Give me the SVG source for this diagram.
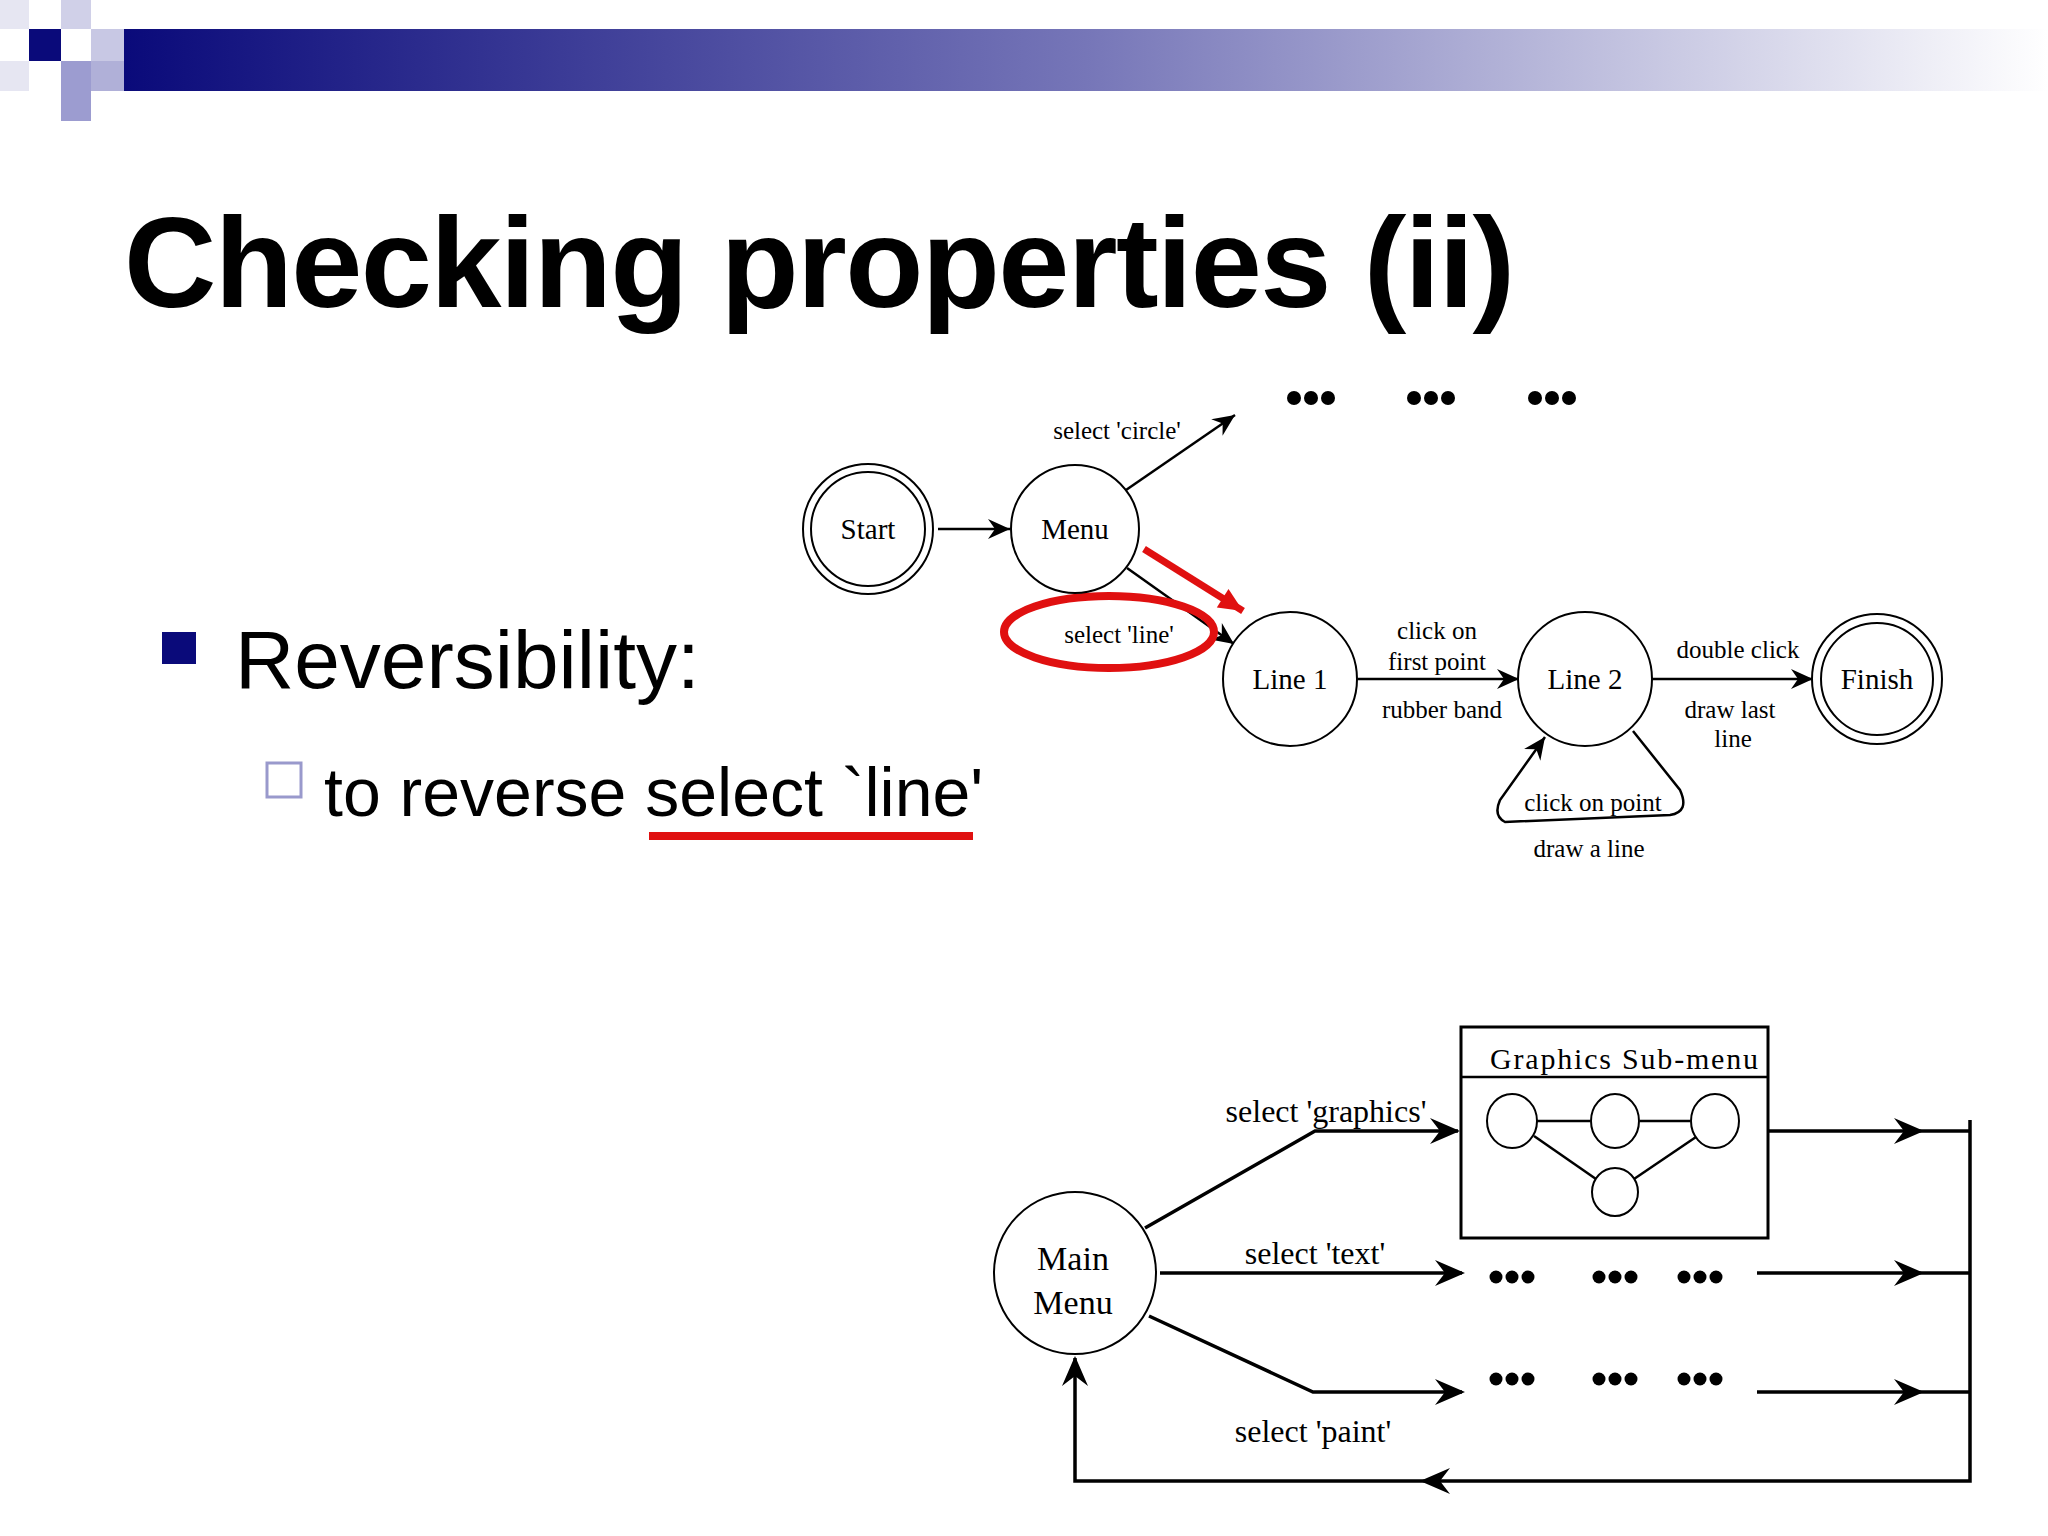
<svg xmlns="http://www.w3.org/2000/svg" width="2048" height="1536" viewBox="0 0 2048 1536">
<defs>
<linearGradient id="band" x1="0" x2="1" y1="0" y2="0">
<stop offset="0" stop-color="#0a0a7a"/><stop offset="0.5" stop-color="#7676b8"/><stop offset="1" stop-color="#ffffff"/>
</linearGradient>
<path id="ah" d="M0,0 L-30,-13 L-20,0 L-30,13 z"/>
<marker id="m" markerUnits="userSpaceOnUse" markerWidth="30" markerHeight="30" viewBox="-28 -14 30 28" refX="0" refY="0" orient="auto"><path d="M0,0 L-22,-10 L-15,0 L-22,10 z" fill="#000"/></marker>
<marker id="mr" markerUnits="userSpaceOnUse" markerWidth="30" markerHeight="30" viewBox="-28 -14 30 28" refX="0" refY="0" orient="auto"><path d="M0,0 L-24,-11 L-24,11 z" fill="#e01010"/></marker>
</defs>
<style>
.ln{stroke:#000;stroke-width:2.5;fill:none}
.bl{stroke:#000;stroke-width:3.5;fill:none}
.nd{fill:#fff;stroke:#000;stroke-width:2}
.t{font-family:"Liberation Serif",serif;fill:#000;text-anchor:middle}
.s{font-family:"Liberation Sans",Arial,sans-serif;fill:#000}
.d{fill:#000}
</style>
<rect width="2048" height="1536" fill="#fff"/>
<g id="header">
<rect x="124" y="29" width="1924" height="62" fill="url(#band)"/>
<rect x="0" y="0" width="29" height="29" fill="#e6e6f2"/>
<rect x="29" y="29" width="32" height="32" fill="#0a0a7a"/>
<rect x="61" y="0" width="30" height="29" fill="#d0d0e8"/>
<rect x="91" y="29" width="33" height="32" fill="#c8c8e4"/>
<rect x="61" y="61" width="30" height="30" fill="#9c9cd0"/>
<rect x="0" y="61" width="29" height="30" fill="#e6e6f2"/>
<rect x="61" y="91" width="30" height="30" fill="#9c9cd0"/>
<rect x="91" y="61" width="33" height="30" fill="#b0b0d8"/>
</g>
<text class="s" x="124" y="307" font-size="128" font-weight="bold" textLength="1391">Checking properties (ii)</text>
<rect x="162" y="632" width="34" height="32" fill="#0a0a7a"/>
<text class="s" x="235" y="688" font-size="82">Reversibility:</text>
<rect x="267" y="763" width="34" height="34" fill="none" stroke="#9999cc" stroke-width="3"/>
<text class="s" x="324" y="816" font-size="68">to reverse select `line'</text>
<line x1="649" y1="836" x2="973" y2="836" stroke="#e01010" stroke-width="8"/>

<g id="connectors-top">
<line class="ln" x1="938" y1="529" x2="1010" y2="529" marker-end="url(#m)"/>
<line class="ln" x1="1126" y1="490" x2="1235" y2="415" marker-end="url(#m)"/>
<line class="ln" x1="1127" y1="568" x2="1234" y2="644" marker-end="url(#m)"/>
<line class="ln" x1="1358" y1="679" x2="1519" y2="679" marker-end="url(#m)"/>
<line class="ln" x1="1652" y1="679" x2="1813" y2="679" marker-end="url(#m)"/>
<path class="ln" d="M1633,731 L1680,790 Q1690,812 1670,815 L1505,822 Q1493,816 1500,800 L1545,737" marker-end="url(#m)"/>
<line x1="1144" y1="549" x2="1243" y2="611" stroke="#e01010" stroke-width="7" marker-end="url(#mr)"/>
</g>
<g class="t" font-size="25">
<text x="1117" y="439">select 'circle'</text>
<text x="1119" y="643">select 'line'</text>
<text x="1437" y="639">click on</text>
<text x="1437" y="670">first point</text>
<text x="1442" y="718">rubber band</text>
<text x="1738" y="658">double click</text>
<text x="1730" y="718">draw last</text>
<text x="1733" y="747">line</text>
<text x="1593" y="811">click on point</text>
<text x="1589" y="857">draw a line</text>
</g>
<ellipse cx="1109" cy="632" rx="105" ry="36" fill="none" stroke="#e01010" stroke-width="8"/>
<g id="dots-top" class="d">
<circle cx="1294" cy="398" r="7"/><circle cx="1311" cy="398" r="7"/><circle cx="1328" cy="398" r="7"/>
<circle cx="1414" cy="398" r="7"/><circle cx="1431" cy="398" r="7"/><circle cx="1448" cy="398" r="7"/>
<circle cx="1535" cy="398" r="7"/><circle cx="1552" cy="398" r="7"/><circle cx="1569" cy="398" r="7"/>
</g>
<g id="start"><circle class="nd" cx="868" cy="529" r="65"/><circle class="nd" cx="868" cy="529" r="57"/><text class="t" x="868" y="539" font-size="29">Start</text></g>
<g id="menu"><circle class="nd" cx="1075" cy="529" r="64"/><text class="t" x="1075" y="539" font-size="29">Menu</text></g>
<g id="line1"><circle class="nd" cx="1290" cy="679" r="67"/><text class="t" x="1290" y="689" font-size="29">Line 1</text></g>
<g id="line2"><circle class="nd" cx="1585" cy="679" r="67"/><text class="t" x="1585" y="689" font-size="29">Line 2</text></g>
<g id="finish"><circle class="nd" cx="1877" cy="679" r="65"/><circle class="nd" cx="1877" cy="679" r="56"/><text class="t" x="1877" y="689" font-size="29">Finish</text></g>

<g id="connectors-bottom">
<polyline class="bl" points="1145,1228 1315,1131 1458,1131"/>
<line class="bl" x1="1160" y1="1273" x2="1462" y2="1273"/>
<polyline class="bl" points="1149,1316 1313,1392 1462,1392"/>
<line class="bl" x1="1768" y1="1131" x2="1970" y2="1131"/>
<line class="bl" x1="1757" y1="1273" x2="1970" y2="1273"/>
<line class="bl" x1="1757" y1="1392" x2="1970" y2="1392"/>
<polyline class="bl" points="1970,1120 1970,1481 1075,1481 1075,1358"/>
<use href="#ah" transform="translate(1460,1131)"/>
<use href="#ah" transform="translate(1465,1273)"/>
<use href="#ah" transform="translate(1465,1392)"/>
<use href="#ah" transform="translate(1924,1131)"/>
<use href="#ah" transform="translate(1924,1273)"/>
<use href="#ah" transform="translate(1924,1392)"/>
<use href="#ah" transform="translate(1420,1481) rotate(180)"/>
<use href="#ah" transform="translate(1075,1356) rotate(-90)"/>
</g>
<g class="t" font-size="32">
<text x="1326" y="1122">select 'graphics'</text>
<text x="1315" y="1264">select 'text'</text>
<text x="1313" y="1442">select 'paint'</text>
</g>
<g id="main-menu"><circle class="nd" cx="1075" cy="1273" r="81" stroke-width="3"/><text class="t" x="1073" y="1270" font-size="34">Main</text><text class="t" x="1073" y="1314" font-size="34">Menu</text></g>
<g id="graphics-submenu">
<rect x="1461" y="1027" width="307" height="211" fill="#fff" stroke="#000" stroke-width="3"/>
<line class="ln" x1="1461" y1="1077" x2="1768" y2="1077" stroke-width="3"/>
<text class="t" x="1624" y="1069" font-size="30" textLength="268">Graphics  Sub-menu</text>
<line class="ln" x1="1537" y1="1121" x2="1590" y2="1121"/>
<line class="ln" x1="1640" y1="1121" x2="1690" y2="1121"/>
<line class="ln" x1="1534" y1="1136" x2="1596" y2="1179"/>
<line class="ln" x1="1696" y1="1137" x2="1634" y2="1179"/>
<ellipse class="nd" cx="1512" cy="1121" rx="25" ry="27"/>
<ellipse class="nd" cx="1615" cy="1121" rx="24" ry="27"/>
<ellipse class="nd" cx="1715" cy="1121" rx="24" ry="27"/>
<ellipse class="nd" cx="1615" cy="1192" rx="23" ry="24"/>
</g>
<g id="dots-bottom" class="d">
<circle cx="1496" cy="1277" r="6.5"/><circle cx="1512" cy="1277" r="6.5"/><circle cx="1528" cy="1277" r="6.5"/>
<circle cx="1599" cy="1277" r="6.5"/><circle cx="1615" cy="1277" r="6.5"/><circle cx="1631" cy="1277" r="6.5"/>
<circle cx="1684" cy="1277" r="6.5"/><circle cx="1700" cy="1277" r="6.5"/><circle cx="1716" cy="1277" r="6.5"/>
<circle cx="1496" cy="1379" r="6.5"/><circle cx="1512" cy="1379" r="6.5"/><circle cx="1528" cy="1379" r="6.5"/>
<circle cx="1599" cy="1379" r="6.5"/><circle cx="1615" cy="1379" r="6.5"/><circle cx="1631" cy="1379" r="6.5"/>
<circle cx="1684" cy="1379" r="6.5"/><circle cx="1700" cy="1379" r="6.5"/><circle cx="1716" cy="1379" r="6.5"/>
</g>
</svg>
